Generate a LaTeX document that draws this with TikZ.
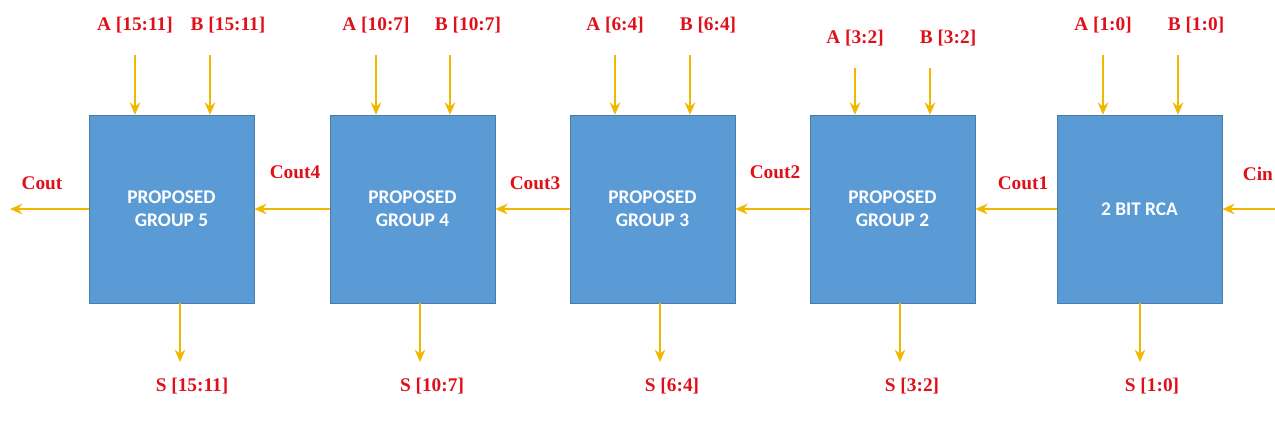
\documentclass[tikz,border=0pt]{standalone}
\usepackage{fontspec}
\setmainfont{Liberation Serif}
\newfontfamily\boxfont{Carlito}
\usetikzlibrary{arrows.meta}
\definecolor{bx}{HTML}{5B9BD5}
\definecolor{ar}{HTML}{F2B800}
\definecolor{lb}{HTML}{E0101A}
\begin{document}
\begin{tikzpicture}[x=0.02cm,y=-0.02cm,
  blk/.style={fill=bx,draw=bx!80!black,line width=0.3pt,minimum width=3.3cm,minimum height=3.76cm,text=white,font=\boxfont\bfseries\fontsize{11}{13}\selectfont,align=center},
  lab/.style={text=lb,font=\bfseries\fontsize{11}{13}\selectfont},
  wire/.style={draw=ar,line width=1.3pt,-{Stealth[length=7pt,width=6pt]}}]
\useasboundingbox (0,0) rectangle (1275,434);
\node[blk] (g5) at (171.5,209) {PROPOSED\\GROUP 5};
\node[blk] (g4) at (412.5,209) {PROPOSED\\GROUP 4};
\node[blk] (g3) at (652.5,209) {PROPOSED\\GROUP 3};
\node[blk] (g2) at (892.5,209) {PROPOSED\\GROUP 2};
\node[blk] (g1) at (1139.5,209) {2 BIT RCA};
\foreach \n/\xa/\xb/\ya/\yb/\s/\xs/\ty in {
 g5/135/210/25/25/15:11/180/25, g4/376/450/25/25/10:7/420/25,
 g3/615/690/25/25/6:4/660/25, g2/855/930/38/38/3:2/900/38, g1/1103/1178/25/25/1:0/1140/25}{
 \node[lab] (a\n) at (\xa,\ya) {A [\s]};
 \node[lab] (b\n) at (\xb+18,\yb) {B [\s]};
 \coordinate (ta\n) at (\xa,\ty+30);
 \coordinate (tb\n) at (\xb,\ty+30);
 \draw[wire] (ta\n) -- (ta\n |- \n.north);
 \draw[wire] (tb\n) -- (tb\n |- \n.north);
 \coordinate (bs\n) at (\xs,362);
 \draw[wire] (bs\n |- \n.south) -- (bs\n);
 \node[lab] (s\n) at (\xs+12,386) {S [\s]};
}
\coordinate (cin) at (1275,209);
\coordinate (cout) at (10,209);
\draw[wire] (cin) -- (g1.east);
\draw[wire] (g1.west) -- (g2.east);
\draw[wire] (g2.west) -- (g3.east);
\draw[wire] (g3.west) -- (g4.east);
\draw[wire] (g4.west) -- (g5.east);
\draw[wire] (g5.west) -- (cout);
\node[lab,anchor=east,inner sep=1pt] (lcin) at (1275,174) {Cin};
\node[lab] (l1) at (1023,183) {Cout1};
\node[lab] (l2) at (775,172) {Cout2};
\node[lab] (l3) at (535,183) {Cout3};
\node[lab] (l4) at (295,172) {Cout4};
\node[lab] (l5) at (42,183) {Cout};
\end{tikzpicture}
\end{document}
